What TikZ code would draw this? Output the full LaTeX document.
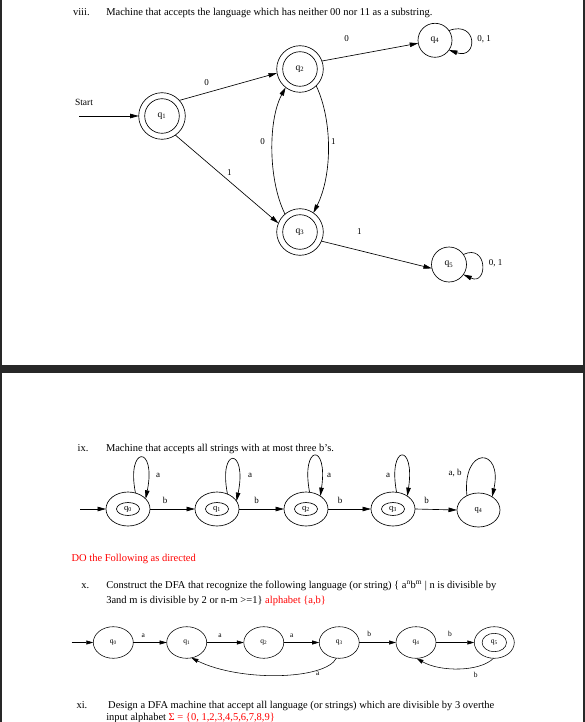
\documentclass[tikz,border=0pt]{standalone}
\usepackage{fontspec}
\setmainfont{Liberation Serif}
\usetikzlibrary{arrows.meta,shapes.geometric}
\definecolor{bordergray}{RGB}{40,40,40}
\definecolor{redtxt}{RGB}{255,0,0}
\begin{document}
\begin{tikzpicture}[x=1pt,y=1pt,
  every node/.style={inner sep=0pt,outer sep=0pt},
  txt/.style={anchor=base west,font=\fontsize{10.5}{12}\selectfont},
  lbl/.style={font=\fontsize{9}{10}\selectfont},
  slbl/.style={font=\fontsize{7.5}{9}\selectfont},
  outc/.style={circle,draw,line width=0.65pt,minimum size=46.6pt},
  inc/.style={circle,draw,line width=0.65pt,minimum size=34.6pt,font=\fontsize{9.5}{10}\selectfont},
  sgc/.style={circle,draw,line width=0.65pt,font=\fontsize{9.5}{10}\selectfont},
  oel/.style={ellipse,draw,line width=0.65pt,minimum width=44pt,minimum height=34pt,font=\fontsize{8.5}{9}\selectfont},
  iel/.style={ellipse,draw,line width=0.65pt,minimum width=23pt,minimum height=13pt,font=\fontsize{8.5}{9}\selectfont},
  tel/.style={ellipse,draw,line width=0.55pt,minimum width=40pt,minimum height=31.6pt,font=\fontsize{7.5}{8}\selectfont},
  tiel/.style={ellipse,draw,line width=0.55pt,minimum width=24.4pt,minimum height=18.4pt,font=\fontsize{7.5}{8}\selectfont},
  edge/.style={draw,line width=0.65pt,-{Triangle[length=8.5pt,width=4.5pt]}},
  sedge/.style={draw,line width=0.55pt,-{Triangle[length=7pt,width=4pt]}},
]
\path[use as bounding box] (0,0) rectangle (585,-722);
% page frame
\fill[bordergray] (0,0) rectangle (2.2,-722);
\fill[bordergray] (582.6,0) rectangle (585,-722);
\fill[bordergray] (0,-365) rectangle (585,-373);

% ---------- viii ----------
\node[txt] (t1a) at (73,-15.5) {viii.};
\node[txt] (t1b) at (106.3,-15.5) {Machine that accepts the language which has neither 00 nor 11 as a substring.};

\node[outc] (q1) at (162,-116) {};
\node[inc] (q1i) at (162,-116) {q\textsubscript{1}};
\node[outc] (q2) at (300,-69) {};
\node[inc] (q2i) at (300,-69) {q\textsubscript{2}};
\node[outc] (q3) at (300,-232) {};
\node[inc] (q3i) at (300,-232) {q\textsubscript{3}};
\node[sgc,minimum size=34pt] (q4) at (435,-40.3) {q\textsubscript{4}};
\node[sgc,minimum size=35pt] (q5) at (449,-264.5) {q\textsubscript{5}};

\coordinate (s1) at (79,-116);
\node[lbl,font=\fontsize{9.5}{10}\selectfont] (start) at (84,-102.7) {Start};
\draw[edge] (s1) -- (q1);
\draw[edge] (q1.42) -- (q2.190);
\draw[edge] (q1.-55) -- (q3.158);
\draw[edge] (q2.20) -- (q4.190);
\draw[edge] (q3.-23) -- (q5.193);
\draw[edge] (q2.-46) .. controls (332.5,-120) and (332.5,-175) .. (q3.55);
\draw[edge] (q3.130) .. controls (268,-180) and (268,-120) .. (q2.-128);
\draw[edge] (q4.35) .. controls (478,-20) and (478,-60) .. (q4.-35);
\draw[edge] (q5.35) .. controls (488,-243) and (488,-286) .. (q5.-35);

\node[lbl] (l1) at (206.7,-82.7) {0};
\node[lbl] (l2) at (229.3,-172.7) {1};
\node[lbl] (l3) at (262.7,-141.7) {0};
\node[lbl] (l4) at (333.3,-141.7) {1};
\node[lbl] (l5) at (346.7,-39) {0};
\node[lbl] (l6) at (359.3,-231.7) {1};
\node[lbl] (l7) at (484,-39) {0, 1};
\node[lbl] (l8) at (495.5,-263) {0, 1};

% ---------- ix ----------
\node[txt] (t2a) at (77.7,-451.5) {ix.};
\node[txt] (t2b) at (106,-451.5) {Machine that accepts all strings with at most three b’s.};

\node[oel] (p0) at (128,-509) {};
\node[iel] (p0i) at (128,-509) {q\textsubscript{0}};
\node[oel] (p1) at (217,-509) {};
\node[iel] (p1i) at (217,-509) {q\textsubscript{1}};
\node[oel] (p2) at (306,-509) {};
\node[iel] (p2i) at (306,-509) {q\textsubscript{2}};
\node[oel] (p3) at (393,-509) {};
\node[iel] (p3i) at (393,-509) {q\textsubscript{3}};
\node[oel,minimum width=43pt] (p4) at (478.5,-510) {q\textsubscript{4}};

\coordinate (s2) at (80,-509);
\draw[edge] (s2) -- (p0.west);
\draw[edge] (p0.east) -- (p1.west);
\draw[edge] (p1.east) -- (p2.west);
\draw[edge] (p2.east) -- (p3.west);
\draw[edge] (p3.east) -- (p4.west);
\draw[edge] (p0.65) .. controls +(-9.5,48) and +(11,54) .. (p0.30);
\draw[edge] (p1.55) .. controls +(-9.5,48) and +(11,54) .. (p1.22);
\draw[edge] (p2.78) .. controls +(-9,48) and +(8,54) .. (p2.42);
\draw[edge] (p3.78) .. controls +(-9,48) and +(8,54) .. (p3.42);
\draw[edge] (p4.129) .. controls +(-5,50) and +(11,50) .. (p4.44);

\node[lbl] (m1) at (158,-475) {a};
\node[lbl] (m2) at (250,-475) {a};
\node[lbl] (m3) at (329,-475) {a};
\node[lbl] (m4) at (388,-475) {a};
\node[lbl] (m5) at (455,-473) {a, b};
\node[lbl] (m6) at (165,-500) {b};
\node[lbl] (m7) at (256.7,-500) {b};
\node[lbl] (m8) at (340,-500) {b};
\node[lbl] (m9) at (426.7,-500) {b};

% ---------- x ----------
\node[txt,text=redtxt] (t3) at (71.6,-561) {DO the Following as directed};
\node[txt] (t4a) at (81.3,-588.5) {x.};
\node[txt] (t4b) at (106.3,-588.5) {Construct the DFA that recognize the following language (or string) \{ a\textsuperscript{n}b\textsuperscript{m} | n is divisible by};
\node[txt] (t4c) at (106.3,-603.5) {3and m is divisible by 2 or n-m >=1\} \textcolor{redtxt}{alphabet \{a,b\}}};

\node[tel] (r0) at (113.3,-642.5) {q\textsubscript{0}};
\node[tel] (r1) at (186.7,-642.5) {q\textsubscript{1}};
\node[tel] (r2) at (263.8,-642.5) {q\textsubscript{2}};
\node[tel] (r3) at (339.2,-642.5) {q\textsubscript{3}};
\node[tel] (r4) at (416,-642.5) {q\textsubscript{4}};
\node[tel] (r5) at (494.3,-642.5) {};
\node[tiel] (r5i) at (494.3,-642.5) {q\textsubscript{5}};

\coordinate (s3) at (71.7,-642.5);
\draw[sedge] (s3) -- (r0.west);
\draw[sedge] (r0.east) -- (r1.west);
\draw[sedge] (r1.east) -- (r2.west);
\draw[sedge] (r2.east) -- (r3.west);
\draw[sedge] (r3.east) -- (r4.west);
\draw[sedge] (r4.east) -- (r5.west);
\draw[sedge] (r3.-100) .. controls (325,-680) and (240,-682) .. (r1.-73);
\draw[sedge] (r5.-93) .. controls (480,-672) and (440,-672) .. (r4.-88);

\node[slbl] (n1) at (143.3,-636) {a};
\node[slbl] (n2) at (220,-636) {a};
\node[slbl] (n3) at (291.7,-636) {a};
\node[slbl] (n4) at (369.3,-634) {b};
\node[slbl] (n5) at (450,-634) {b};
\node[slbl] (n6) at (317.7,-673.3) {a};
\node[slbl] (n7) at (475.7,-675) {b};

% ---------- xi ----------
\node[txt] (t5a) at (76.5,-708) {xi.};
\node[txt] (t5b) at (108.2,-708) {Design a DFA machine that accept all language (or strings) which are divisible by 3 overthe};
\node[txt] (t5c) at (106.3,-720) {input alphabet \textcolor{redtxt}{Σ = \{0, 1,2,3,4,5,6,7,8,9\}}};
\end{tikzpicture}
\end{document}
